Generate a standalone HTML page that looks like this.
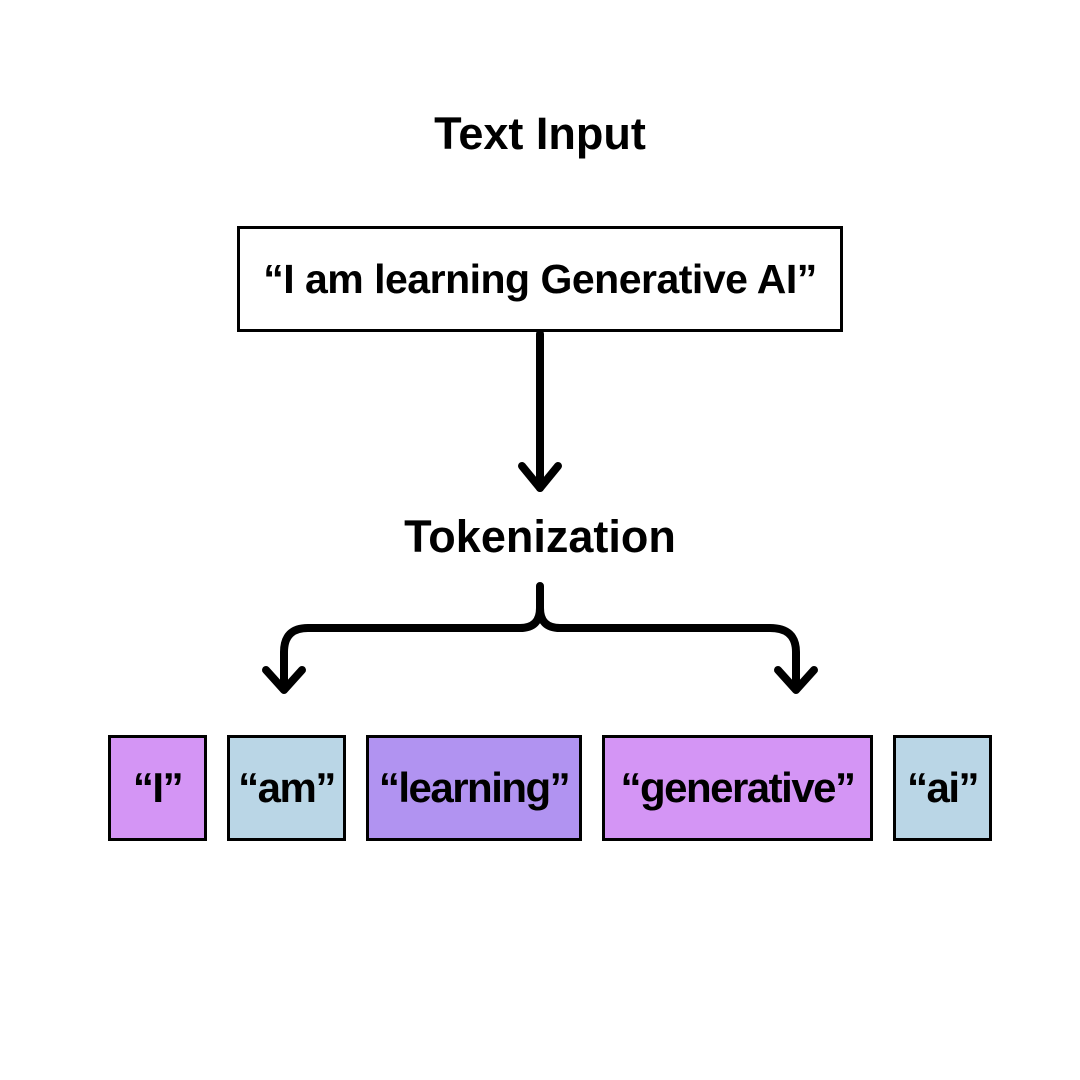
<!DOCTYPE html>
<html><head><style>
body{margin:0;width:1080px;height:1080px;background:#fff;position:relative;font-family:"Liberation Sans",sans-serif;overflow:hidden}
.t{position:absolute;left:0;width:1080px;text-align:center;font-weight:bold;color:#000}
.b{position:absolute;box-sizing:border-box;border:3px solid #000;display:flex;align-items:center;justify-content:center;font-weight:bold;font-size:42px;letter-spacing:-1.5px}
</style></head><body>
<div class="t" style="top:108px;font-size:45px">Text Input</div>
<div class="b" style="left:237px;top:226px;width:606px;height:106px;background:#fff;font-size:41px;letter-spacing:-0.5px">“I am learning Generative AI”</div>
<div class="t" style="top:511px;font-size:45px">Tokenization</div>
<svg style="position:absolute;left:0;top:0" width="1080" height="1080">
<g fill="none" stroke="#000" stroke-width="8" stroke-linecap="round" stroke-linejoin="round">
<path d="M540 334 V488"/>
<path d="M522 466 L540 488 L558 466"/>
<path d="M540 586 V608 Q540 628 520 628 H308 Q284 628 284 652 V688"/>
<path d="M540 608 Q540 628 560 628 H770 Q796 628 796 652 V688"/>
<path d="M266 670 L284 690 L302 670"/>
<path d="M778 670 L796 690 L814 670"/>
</g></svg>
<div class="b" style="left:108px;top:735px;width:99px;height:106px;background:#d495f5">“I”</div>
<div class="b" style="left:227px;top:735px;width:119px;height:106px;background:#bad6e6">“am”</div>
<div class="b" style="left:366px;top:735px;width:216px;height:106px;background:#b193f1">“learning”</div>
<div class="b" style="left:602px;top:735px;width:271px;height:106px;background:#d495f5">“generative”</div>
<div class="b" style="left:893px;top:735px;width:99px;height:106px;background:#bad6e6">“ai”</div>
</body></html>
